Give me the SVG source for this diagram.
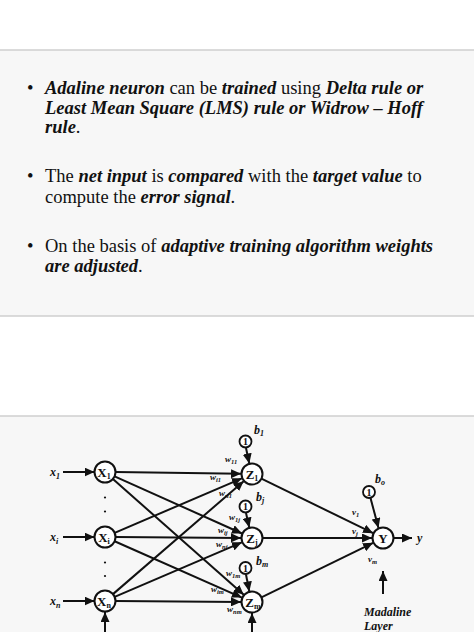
<svg xmlns="http://www.w3.org/2000/svg" width="474" height="632" viewBox="0 0 474 632">
<style>
.slide{fill:#f7f7f7;stroke:#cfcfcf;stroke-width:1.5}
.t{font-family:"Liberation Serif",serif;font-size:18.5px;fill:#111}
.bi{font-weight:bold;font-style:italic}
.node{fill:#fff;stroke:#111;stroke-width:2}
.bias{fill:#fff;stroke:#111;stroke-width:1.8}
.nl{font-family:"Liberation Serif",serif;font-weight:bold;font-size:13px;fill:#111;text-anchor:middle}
.sub{font-size:8px}
.lb{font-family:"Liberation Serif",serif;font-weight:bold;font-style:italic;font-size:12px;fill:#111}
.w{font-family:"Liberation Serif",serif;font-weight:bold;font-style:italic;font-size:9px;fill:#111}
.ws{font-size:6.5px}
.c line{stroke:#111;stroke-width:2;marker-end:url(#ah)}
.dot{fill:#111}
</style>
<defs>
<marker id="ah" markerUnits="userSpaceOnUse" markerWidth="10" markerHeight="9" refX="10" refY="4.5" orient="auto"><path d="M0,0 L10,4.5 L0,9 z" fill="#111"/></marker>
</defs>
<rect width="474" height="632" fill="#fff"/>
<rect class="slide" x="-2" y="50" width="478" height="266"/>
<g id="text">
<text class="t" x="27" y="94">•</text>
<text class="t" x="45" y="94"><tspan class="bi">Adaline neuron</tspan> can be <tspan class="bi">trained</tspan> using <tspan class="bi">Delta rule or</tspan></text>
<text class="t bi" x="45" y="114">Least Mean Square (LMS) rule or Widrow – Hoff</text>
<text class="t" x="45" y="133"><tspan class="bi">rule</tspan>.</text>
<text class="t" x="27" y="182">•</text>
<text class="t" x="45" y="182">The <tspan class="bi">net input</tspan> is <tspan class="bi">compared</tspan> with the <tspan class="bi">target value</tspan> to</text>
<text class="t" x="45" y="203">compute the <tspan class="bi">error signal</tspan>.</text>
<text class="t" x="27" y="252">•</text>
<text class="t" x="45" y="252">On the basis of <tspan class="bi">adaptive training algorithm weights</tspan></text>
<text class="t" x="45" y="272"><tspan class="bi">are adjusted</tspan>.</text>
</g>
<rect class="slide" x="-2" y="416" width="478" height="220"/>
<g id="connectors" class="c">
<line x1="63" y1="472" x2="94.5" y2="472"/>
<line x1="63" y1="537" x2="94.5" y2="537"/>
<line x1="63" y1="601" x2="94.5" y2="601"/>
<line x1="105" y1="640" x2="105" y2="612"/>
<line x1="115.5" y1="472.1" x2="241" y2="473.85"/>
<line x1="114.6" y1="476.3" x2="241.96" y2="533.49"/>
<line x1="112.9" y1="479" x2="243.76" y2="594.71"/>
<line x1="114.65" y1="532.86" x2="241.89" y2="478.33"/>
<line x1="115.5" y1="537.07" x2="241" y2="537.93"/>
<line x1="114.6" y1="541.25" x2="241.94" y2="597.55"/>
<line x1="112.95" y1="594.13" x2="243.68" y2="481.19"/>
<line x1="114.65" y1="596.86" x2="241.89" y2="542.33"/>
<line x1="115.5" y1="601.07" x2="241" y2="601.93"/>
<line x1="246" y1="448" x2="249.3" y2="463.5"/>
<line x1="246" y1="513" x2="249.3" y2="527.5"/>
<line x1="246" y1="574.5" x2="249.3" y2="591.5"/>
<line x1="252" y1="640" x2="252" y2="613"/>
<line x1="261.4" y1="478.6" x2="373.12" y2="533.17"/>
<line x1="262.5" y1="538" x2="372" y2="538"/>
<line x1="261.4" y1="597.4" x2="373.12" y2="542.83"/>
<line x1="370.5" y1="498" x2="378.5" y2="528"/>
<line x1="393.5" y1="538" x2="412" y2="538"/>
<line x1="383" y1="594" x2="383" y2="571"/>
</g>
<g id="inputs">
<text class="lb" x="50" y="476">x<tspan class="sub" dy="3">1</tspan></text>
<text class="lb" x="50" y="541">x<tspan class="sub" dy="3">i</tspan></text>
<text class="lb" x="50" y="605">x<tspan class="sub" dy="3">n</tspan></text>
<circle class="dot" cx="105" cy="497.5" r="1.1"/>
<circle class="dot" cx="105" cy="511.5" r="1.1"/>
<circle class="dot" cx="105" cy="562.5" r="1.1"/>
<circle class="dot" cx="105" cy="576" r="1.1"/>
</g>
<g id="X1"><circle class="node" cx="105" cy="472" r="10.5"/><text class="nl" x="104" y="476.5">X<tspan class="sub" dy="2">1</tspan></text></g>
<g id="Xi"><circle class="node" cx="105" cy="537" r="10.5"/><text class="nl" x="104" y="541.5">X<tspan class="sub" dy="2">i</tspan></text></g>
<g id="Xn"><circle class="node" cx="105" cy="601" r="10.5"/><text class="nl" x="104" y="605.5">X<tspan class="sub" dy="2">n</tspan></text></g>
<g id="Z1"><circle class="node" cx="252" cy="474" r="10.5"/><text class="nl" x="252" y="478.5">Z<tspan class="sub" dy="2">1</tspan></text></g>
<g id="Zj"><circle class="node" cx="252" cy="538" r="10.5"/><text class="nl" x="252" y="542.5">Z<tspan class="sub" dy="2">j</tspan></text></g>
<g id="Zm"><circle class="node" cx="252" cy="602" r="10.5"/><text class="nl" x="253" y="606.5">Z<tspan class="sub" dy="2">m</tspan></text></g>
<g id="Y"><circle class="node" cx="383" cy="538" r="10.5"/><text class="nl" x="383" y="542.5">Y</text></g>
<g id="b1"><circle class="bias" cx="245.5" cy="441.5" r="6"/><text class="nl" style="font-size:10px" x="245.5" y="445">1</text><text class="lb" x="254" y="434">b<tspan class="sub" dy="2">1</tspan></text></g>
<g id="bj"><circle class="bias" cx="245.5" cy="506.5" r="6"/><text class="nl" style="font-size:10px" x="245.5" y="510">1</text><text class="lb" x="256" y="501">b<tspan class="sub" dy="2">j</tspan></text></g>
<g id="bm"><circle class="bias" cx="245.5" cy="568" r="6"/><text class="nl" style="font-size:10px" x="245.5" y="571.5">1</text><text class="lb" x="256" y="565">b<tspan class="sub" dy="2">m</tspan></text></g>
<g id="bo"><circle class="bias" cx="369" cy="492" r="6"/><text class="nl" style="font-size:10px" x="369" y="495.5">1</text><text class="lb" x="375" y="483">b<tspan class="sub" dy="2">o</tspan></text></g>
<g id="weights">
<text class="w" x="225" y="462">w<tspan class="ws" dy="2">11</tspan></text>
<text class="w" x="210" y="480">w<tspan class="ws" dy="2">i1</tspan></text>
<text class="w" x="219" y="496">w<tspan class="ws" dy="2">n1</tspan></text>
<text class="w" x="229" y="520">w<tspan class="ws" dy="2">1j</tspan></text>
<text class="w" x="218" y="533">w<tspan class="ws" dy="2">ij</tspan></text>
<text class="w" x="216" y="547">w<tspan class="ws" dy="2">nj</tspan></text>
<text class="w" x="226" y="576">w<tspan class="ws" dy="2">1m</tspan></text>
<text class="w" x="211" y="592">w<tspan class="ws" dy="2">im</tspan></text>
<text class="w" x="227" y="612">w<tspan class="ws" dy="2">nm</tspan></text>
<text class="w" x="352" y="515">v<tspan class="ws" dy="2">1</tspan></text>
<text class="w" x="352" y="534">v<tspan class="ws" dy="2">j</tspan></text>
<text class="w" x="368" y="562">v<tspan class="ws" dy="2">m</tspan></text>
</g>
<text class="lb" x="417" y="542">y</text>
<text class="lb" x="364" y="616">Madaline</text>
<text class="lb" x="364" y="630">Layer</text>
</svg>
